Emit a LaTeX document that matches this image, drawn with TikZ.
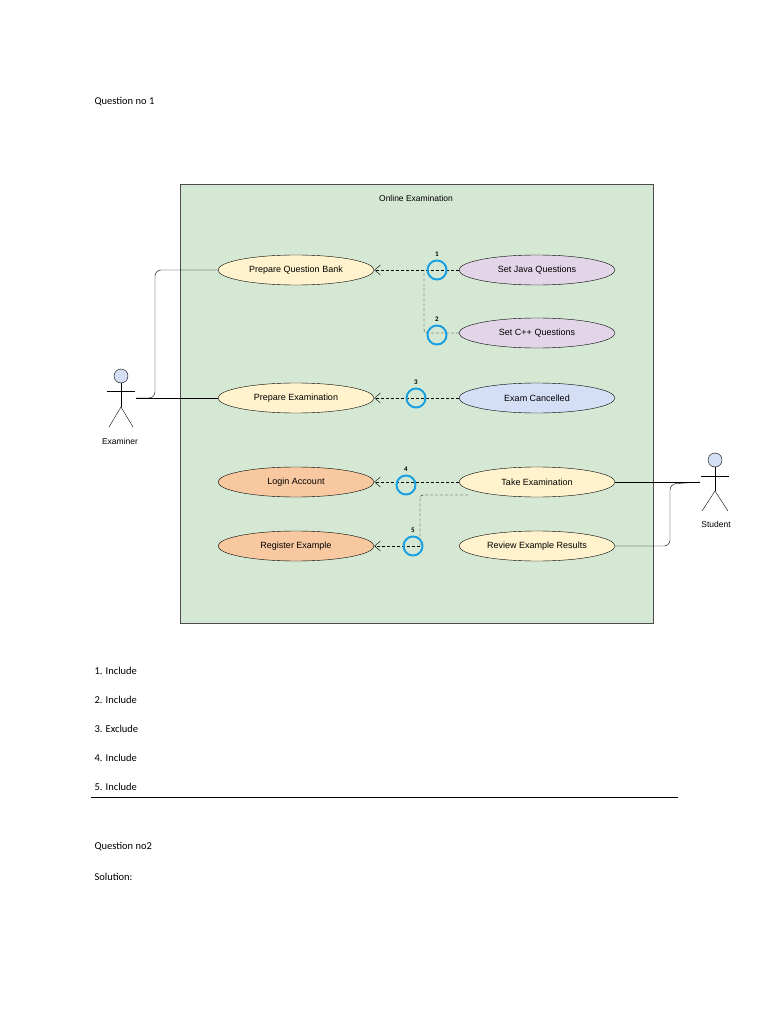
\documentclass[tikz,border=0pt]{standalone}
\usepackage{fontspec}
\setmainfont{Carlito}
\newfontfamily\diag{Liberation Sans}
\usetikzlibrary{arrows.meta,shapes.geometric,positioning}
\definecolor{bg}{HTML}{D5E8D4}
\definecolor{yel}{HTML}{FFF2CC}
\definecolor{org}{HTML}{F8C9A0}
\definecolor{pur}{HTML}{E1D5E7}
\definecolor{blu}{HTML}{D4DEF4}
\definecolor{ring}{HTML}{1BA1E2}
\begin{document}
\begin{tikzpicture}[x=1pt,y=-1pt,
  uc/.style={draw=black,ellipse,minimum width=156pt,minimum height=30pt,inner sep=0pt,font=\diag\fontsize{9}{10}\selectfont},
  doc/.style={anchor=west,font=\fontsize{10.5}{12}\selectfont},
  dep/.style={densely dashed,thin},
  rg/.style={draw=ring,line width=2pt,circle,minimum size=19pt,inner sep=0pt},
  num/.style={font=\bfseries\scriptsize,inner sep=0pt}]
\useasboundingbox (0,0) rectangle (768,1024);
\node[doc] (q1) at (91,102) {Question no 1};
\node[draw=black!70,fill=bg,minimum width=473pt,minimum height=439pt,anchor=north west,inner sep=0pt] (sys) at (180,184) {};
\node[font=\diag\fontsize{8.5}{10}\selectfont] (title) at (416,198) {Online Examination};
\node[uc,fill=yel] (pqb) at (296,270) {Prepare Question Bank};
\node[uc,fill=yel] (pe) at (296,398) {Prepare Examination};
\node[uc,fill=org] (la) at (296,482) {Login Account};
\node[uc,fill=org] (re) at (296,546) {Register Example};
\node[uc,fill=pur] (sj) at (537,270) {Set Java Questions};
\node[uc,fill=pur] (sc) at (537,333) {Set C++ Questions};
\node[uc,fill=blu] (ec) at (537,398) {Exam Cancelled};
\node[uc,fill=yel] (te) at (537,482) {Take Examination};
\node[uc,fill=yel] (rr) at (537,546) {Review Example Results};
\coordinate (j1) at (424,270);
\coordinate (j2) at (420,495);
\coordinate (j3) at (468,495);
\coordinate (j4) at (420,546);
\draw[dep,-{Straight Barb[length=6pt,width=10pt]}] (sj) -- (pqb);
\draw[dep,rounded corners=3pt] (sc) -- (424,333) -- (j1);
\draw[dep,-{Straight Barb[length=6pt,width=10pt]}] (ec) -- (pe);
\draw[dep,-{Straight Barb[length=6pt,width=10pt]}] (te) -- (la);
\draw[dep,rounded corners=3pt] (j3) -- (j2) -- (j4);
\draw[dep,-{Straight Barb[length=6pt,width=10pt]}] (j4) -- (re);
\node[rg] (c1) at (437,270) {}; \node[num,above=3pt of c1] {1};
\node[rg] (c2) at (437,335) {}; \node[num,above=3pt of c2] {2};
\node[rg] (c3) at (416,398) {}; \node[num,above=3pt of c3] {3};
\node[rg] (c4) at (406,485) {}; \node[num,above=3pt of c4] {4};
\node[rg] (c5) at (413,546) {}; \node[num,above=3pt of c5] {5};
% Examiner
\node[circle,draw,fill=blu,minimum size=14pt,inner sep=0pt] (eh) at (121,376) {};
\draw (eh.south) -- (121,407) coordinate (eb);
\draw (107,391) -- (135,391);
\draw (109,427) -- (eb) -- (133,427);
\node[font=\diag\fontsize{8.5}{10}\selectfont] (ex) at (120,441) {Examiner};
\coordinate (eh1) at (136,398);
\draw[rounded corners=6pt] (eh1) -- (155,398) -- (155,270) -- (pqb.west);
\draw (eh1) -- (pe.west);
% Student
\node[circle,draw,fill=blu,minimum size=14pt,inner sep=0pt] (sh) at (715,460) {};
\draw (sh.south) -- (715,491) coordinate (sb);
\draw (701,476) -- (729,476);
\draw (702,511) -- (sb) -- (728,511);
\node[font=\diag\fontsize{8.5}{10}\selectfont] (st) at (716,524) {Student};
\coordinate (sh1) at (700,482);
\draw (te.east) -- (sh1);
\draw[rounded corners=6pt] (rr.east) -- (670,546) -- (670,484) -- (sh1);
% text
\node[doc] at (91,671) {1. Include};
\node[doc] at (91,700) {2. Include};
\node[doc] at (91,729) {3. Exclude};
\node[doc] at (91,758) {4. Include};
\node[doc] at (91,787) {5. Include};
\draw (91,797) -- (678,797);
\node[doc] at (91,847) {Question no2};
\node[doc] at (91,877) {Solution:};
\end{tikzpicture}
\end{document}
